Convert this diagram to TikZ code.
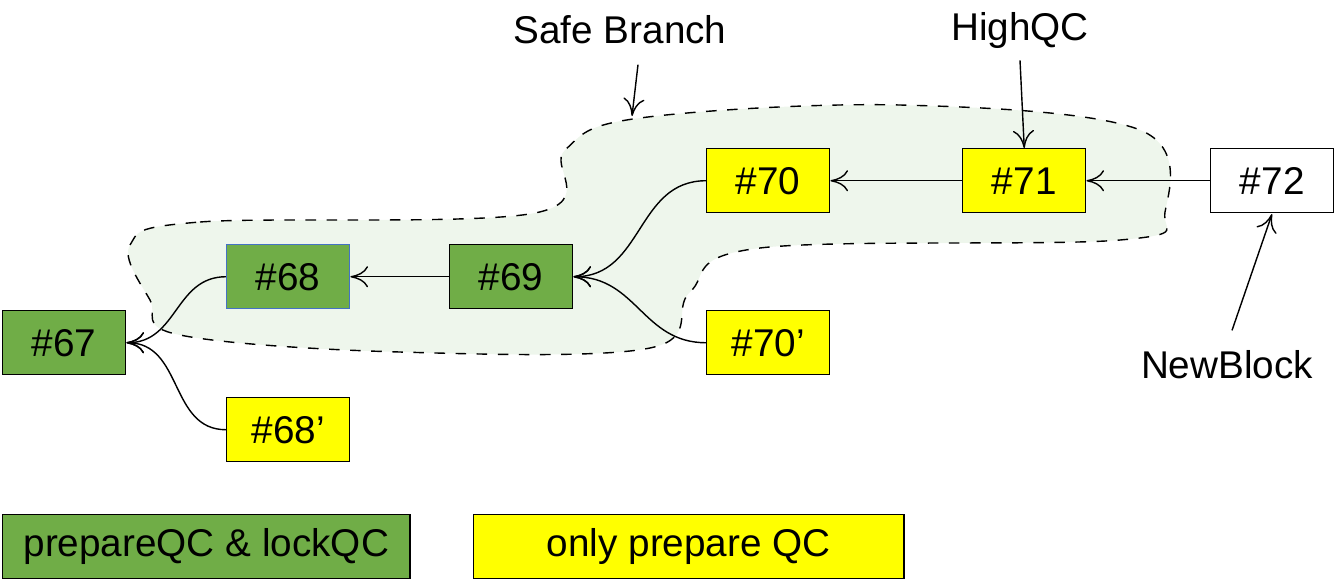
\documentclass[tikz,border=0pt]{standalone}
\usepackage{fontspec}
\setmainfont{Liberation Sans}
\usetikzlibrary{arrows.meta}
\definecolor{qcgreen}{HTML}{70AD47}
\definecolor{qcyellow}{HTML}{FFFF00}
\definecolor{safefill}{HTML}{EEF6EC}
\definecolor{edgeblue}{HTML}{4472C4}
\begin{document}
\begin{tikzpicture}[x=0.01cm,y=-0.01cm,font=\fontsize{11}{13}\selectfont,
  blk/.style={draw=black,minimum width=1.23cm,minimum height=0.64cm,inner sep=0pt,anchor=north west},
  lock/.style={blk,fill=qcgreen},
  prep/.style={blk,fill=qcyellow},
  arr/.style={-{To[length=5pt,width=6pt]},thin}]
	\useasboundingbox (0,0) rectangle (1334,578);
	%% safe branch region
	\draw[dashed,fill=safefill] plot[smooth cycle,tension=0.6] coordinates {(130,245) (200,222) (535,213) (565,150) (640,118) (900,105) (1140,130) (1165,212) (1120,240) (760,248) (690,292) (650,348) (400,352) (180,335) (150,300)};
	%% blocks
	\node[lock] (b67) at (2,310) {\#67};
	\node[lock,draw=edgeblue] (b68) at (226,244) {\#68};
	\node[prep] (b68p) at (226,397) {\#68'};
	\node[lock] (b69) at (449,244) {\#69};
	\node[prep] (b70) at (706,148) {\#70};
	\node[prep] (b70p) at (706,310) {\#70'};
	\node[prep] (b71) at (962,148) {\#71};
	\node[blk] (b72) at (1210,148) {\#72};
	%% legend
	\node[lock,minimum width=4.07cm] (lg1) at (2,514) {prepareQC \& lockQC};
	\node[prep,minimum width=4.30cm] (lg2) at (473,514) {only prepare QC};
	%% labels
	\node (safe) at (620,30) {Safe Branch};
	\node (high) at (1020,30) {HighQC};
	\node (newb) at (1227,365) {NewBlock};
	\coordinate (safetip) at (632,116);
	%% links
	\draw[arr] (b68.west) to[out=180,in=0,looseness=1.1] (b67.east);
	\draw[arr] (b68p.west) to[out=180,in=0,looseness=1.1] (b67.east);
	\draw[arr] (b69.west) -- (b68.east);
	\draw[arr] (b70.west) to[out=180,in=0,looseness=1.1] (b69.east);
	\draw[arr] (b70p.west) to[out=180,in=0,looseness=1.1] (b69.east);
	\draw[arr] (b71.west) -- (b70.east);
	\draw[arr] (b72.west) -- (b71.east);
	\draw[arr] (safe.south)++(18,8) -- (safetip);
	\draw[arr] (high.south) -- (b71.north);
	\draw[arr] (newb.north) ++(5,-8) -- (1272,214);
\end{tikzpicture}
\end{document}
